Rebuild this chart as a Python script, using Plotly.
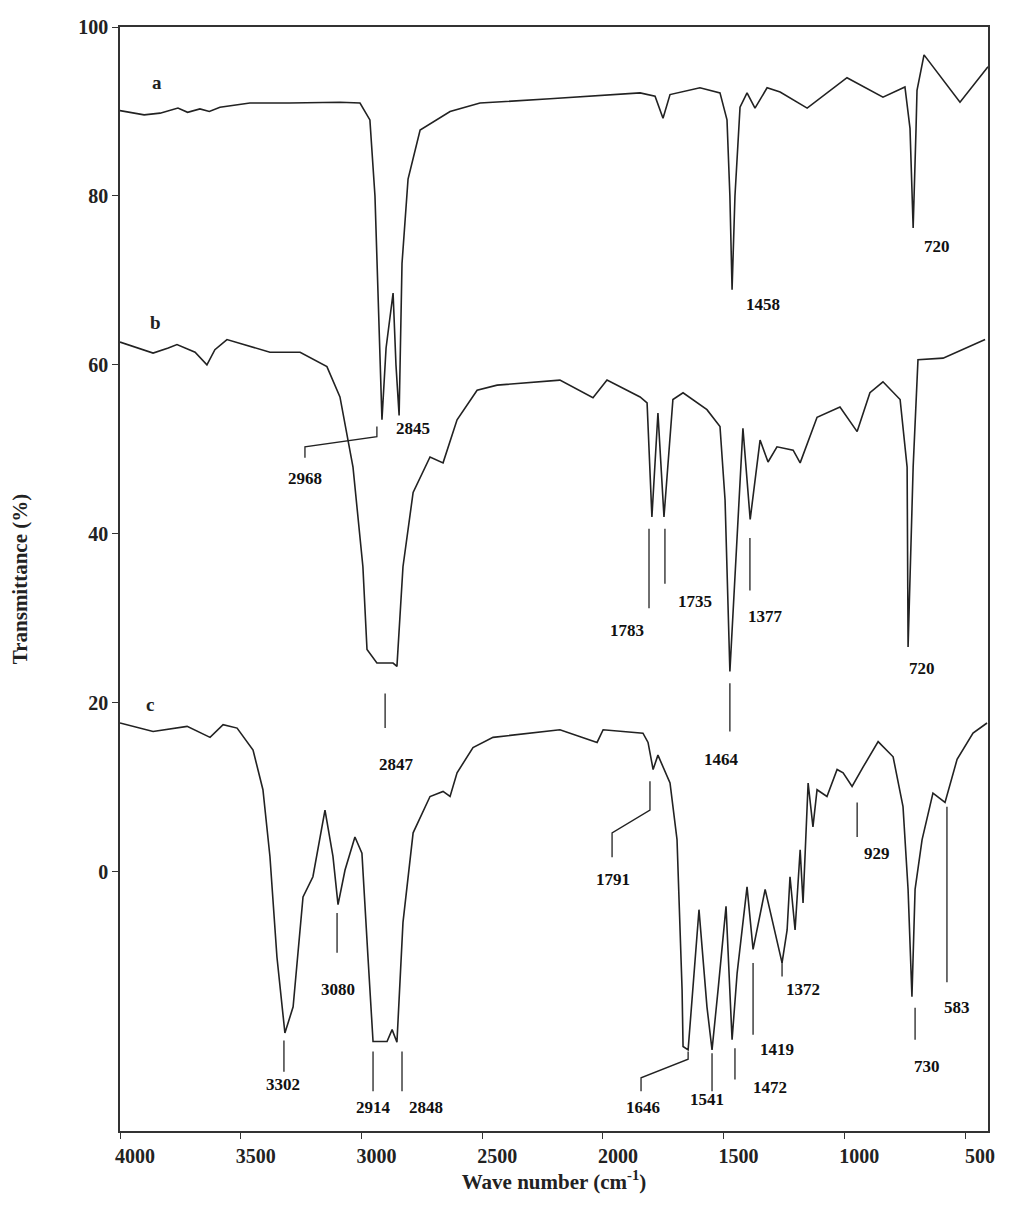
import plotly.graph_objects as go

wn_a = [4000,3900,3834,3760,3720,3669,3630,3586,3462,3300,3089,3006,2965,2944,2915,2898,2869,2857,2844,2832,2807,2757,2633,2509,2219,1846,1784,1751,1722,1598,1515,1486,1474,1465,1453,1432,1403,1370,1320,1266,1154,989,840,749,728,715,703,699,670,521,405]
t_a = [90.1,89.6,89.8,90.4,89.9,90.3,90.0,90.5,91.0,91.0,91.1,91.0,89.0,80,53.5,62,68.5,60,54,72,82,87.8,90,91,91.5,92.2,91.8,89.2,92,92.8,92.2,89,80,68.9,80,90.5,92.2,90.4,92.8,92.3,90.4,94,91.7,92.9,88,76.2,88,92.5,96.7,91.1,95.3]

wn_b = [4000,3863,3800,3764,3689,3640,3607,3557,3379,3254,3143,3089,3035,2994,2977,2936,2869,2853,2828,2786,2716,2662,2604,2521,2438,2178,2041,1983,1846,1817,1797,1772,1747,1710,1668,1569,1515,1494,1474,1444,1420,1390,1349,1316,1279,1212,1183,1113,1018,947,894,840,769,740,736,715,695,591,417]
t_b = [62.7,61.4,62.0,62.4,61.5,60,61.8,63,61.5,61.5,59.8,56.2,47.9,36.1,26.3,24.7,24.7,24.3,36.1,44.9,49.1,48.4,53.5,57,57.6,58.2,56.1,58.2,56.2,55.5,42,54.3,42,55.9,56.7,54.7,52.7,44,23.7,40,52.5,41.7,51.1,48.5,50.3,49.9,48.4,53.8,55,52.1,56.7,58,55.9,47.9,26.6,47.9,60.6,60.8,63]

wn_c = [4000,3863,3722,3627,3573,3515,3449,3408,3379,3350,3317,3283,3242,3201,3151,3118,3097,3068,3027,2998,2973,2952,2894,2873,2853,2828,2786,2716,2662,2633,2604,2538,2455,2314,2178,2024,1999,1834,1813,1792,1772,1722,1693,1672,1668,1647,1627,1602,1569,1548,1523,1490,1465,1444,1403,1378,1328,1258,1237,1225,1204,1183,1171,1150,1130,1113,1072,1030,1005,968,922,860,798,757,736,720,707,678,633,583,533,467,409]
t_c = [17.6,16.6,17.2,15.9,17.4,17.0,14.4,9.7,1.8,-10.1,-19.1,-16,-3,-0.6,7.3,1.8,-3.9,0.2,4.1,2.2,-10.1,-20.1,-20.1,-18.7,-20.2,-6,4.6,8.9,9.5,8.9,11.7,14.7,15.9,16.4,16.8,15.3,16.8,16.4,15.3,12.1,13.8,10.5,3.8,-14,-20.7,-21.1,-14,-4.5,-16,-21.1,-14,-4.1,-19.9,-12,-1.8,-9.2,-2.1,-10.8,-6.9,-0.6,-6.9,2.6,-3.7,10.5,5.3,9.7,8.9,12.1,11.7,10.1,12.4,15.4,13.6,7.7,-2.1,-14.8,-2.1,3.8,9.3,8.2,13.3,16.4,17.6]

# peak labels: text, text x, text y, leader line x points, leader line y points
labels = [
    ("2968", 3234, 46.6, [2936, 2936, 3234, 3234], [52.7, 51.5, 50.3, 49.0]),
    ("2845", 2786, 52.5, [], []),
    ("1458", 1337, 67.1, [], []),
    ("720", 616, 74.0, [], []),
    ("1783", 1900, 28.6, [1809, 1809], [40.6, 31.2]),
    ("1735", 1618, 32.0, [1743, 1743], [40.6, 34.1]),
    ("1377", 1328, 30.2, [1391, 1391], [39.5, 33.3]),
    ("720", 678, 24.1, [], []),
    ("1464", 1507, 13.3, [1474, 1474], [22.3, 16.6]),
    ("2847", 2853, 12.7, [2902, 2902], [21.1, 17.0]),
    ("1791", 1958, -0.9, [1805, 1805, 1962, 1962], [10.7, 7.3, 4.6, 1.7]),
    ("929", 865, 2.2, [947, 947], [8.2, 4.1]),
    ("1372", 1171, -14.0, [1258, 1258], [-10.3, -12.4]),
    ("730", 657, -23.1, [707, 707], [-16.1, -19.9]),
    ("583", 533, -16.1, [575, 575], [7.7, -13.1]),
    ("1419", 1279, -21.1, [1378, 1378], [-10.8, -19.3]),
    ("1472", 1308, -25.6, [1453, 1453], [-20.9, -24.6]),
    ("1541", 1569, -27.0, [1548, 1548], [-21.5, -26.0]),
    ("1646", 1834, -27.9, [1647, 1647, 1842, 1842], [-21.3, -22.2, -24.4, -26.0]),
    ("3302", 3325, -25.2, [3321, 3321], [-20.0, -23.7]),
    ("3080", 3097, -14.0, [3101, 3101], [-4.9, -9.6]),
    ("2914", 2952, -27.9, [2952, 2952], [-21.3, -26.0]),
    ("2848", 2733, -27.9, [2832, 2832], [-21.3, -26.0]),
]
curve_names = [("a", 3847, 93.4), ("b", 3855, 65.0), ("c", 3876, 19.8)]

FONT = "Liberation Serif"
fig = go.Figure()
for xs, ys in [(wn_a, t_a), (wn_b, t_b), (wn_c, t_c)]:
    fig.add_trace(go.Scatter(x=xs, y=ys, mode="lines", line=dict(color="#222", width=1.6), showlegend=False))
for txt, tx, ty, lx, ly in labels:
    if lx:
        fig.add_trace(go.Scatter(x=lx, y=ly, mode="lines", line=dict(color="#222", width=1.3), showlegend=False))
    fig.add_annotation(x=tx, y=ty, text=txt, showarrow=False, font=dict(family=FONT, size=17, color="#111", weight=600))
for txt, tx, ty in curve_names:
    fig.add_annotation(x=tx, y=ty, text="<b>"+txt+"</b>", showarrow=False, font=dict(family=FONT, size=19, color="#222"))

fig.update_layout(
    width=1002, height=1214, plot_bgcolor="white", paper_bgcolor="white",
    margin=dict(l=112, r=22, t=19, b=91, autoexpand=False),
    font=dict(family=FONT, color="#222"),
)
fig.update_xaxes(range=[4000, 405], tickvals=[4000,3500,3000,2500,2000,1500,1000,500],
                 ticks="outside", ticklen=6, tickcolor="#333", showline=True, linecolor="#333", linewidth=1.5,
                 mirror=True, showgrid=False, zeroline=False, ticklabelshift=-15, automargin=False,
                 tickfont=dict(family=FONT, size=20, weight="bold"),
                 title=dict(text="<b>Wave number (cm<sup>-1</sup>)</b>", font=dict(family=FONT, size=21), standoff=8))
fig.update_yaxes(range=[-30.7, 100], tickvals=[0,20,40,60,80,100],
                 ticks="outside", ticklen=6, tickcolor="#333", showline=True, linecolor="#333", linewidth=1.5,
                 mirror=True, showgrid=False, zeroline=False, automargin=False,
                 tickfont=dict(family=FONT, size=20, weight="bold"),
                 title=dict(text="<b>Transmittance (%)</b>", font=dict(family=FONT, size=21), standoff=45))
fig.write_html("out.html")
